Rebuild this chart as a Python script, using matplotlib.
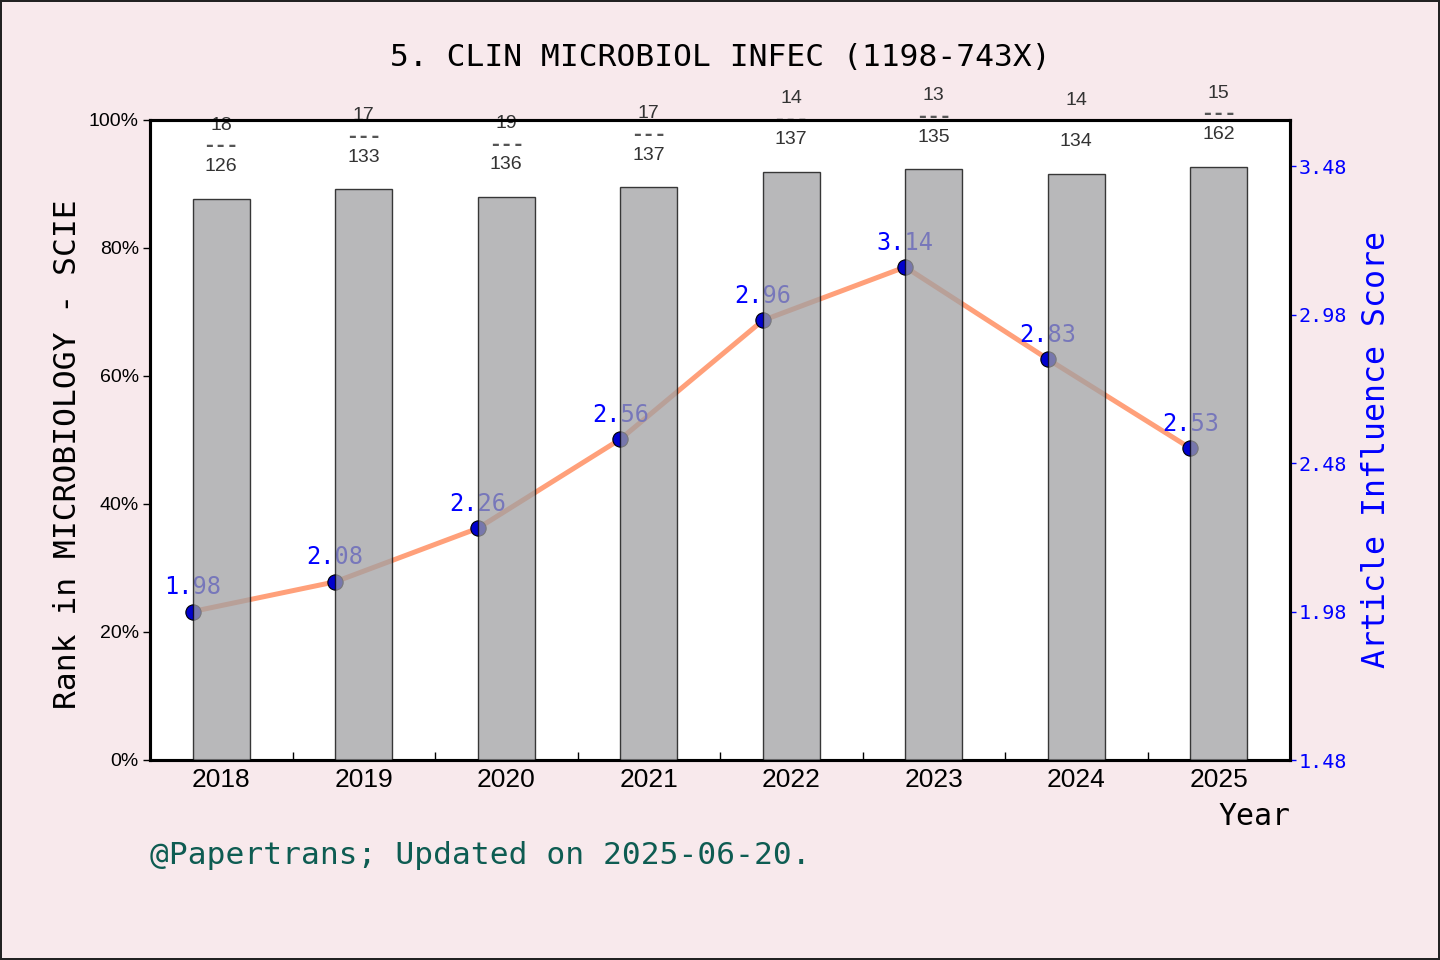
import matplotlib
matplotlib.use("Agg")
import matplotlib.pyplot as plt
from matplotlib.ticker import FixedLocator, PercentFormatter

years = ["2018", "2019", "2020", "2021", "2022", "2023", "2024", "2025"]
ranks = [18, 17, 19, 17, 14, 13, 14, 15]
totals = [126, 133, 136, 137, 137, 135, 134, 162]
bar_pct = [87.7, 89.2, 88.0, 89.5, 91.9, 92.3, 91.6, 92.7]
ais = [1.98, 2.08, 2.26, 2.56, 2.96, 3.14, 2.83, 2.53]
ais_ticks = [1.48, 1.98, 2.48, 2.98, 3.48]

MONO = "DejaVu Sans Mono"
SANS = "Liberation Sans"

fig = plt.figure(figsize=(14.4, 9.6), dpi=100)
fig.patch.set_facecolor("#f8e9ec")
fig.patch.set_edgecolor("#222222")
fig.patch.set_linewidth(1.5)

rect = [150 / 1440, 1 - 760 / 960, 1140 / 1440, 640 / 960]
ax = fig.add_axes(rect)
ax2 = ax.twinx()
ax2.set_zorder(ax.get_zorder() - 1)
ax.patch.set_visible(False)
ax2.patch.set_visible(True)
ax2.patch.set_facecolor("white")

x = list(range(len(years)))

# line (drawn beneath bars)
ax2.plot(x, ais, color="#ffa07a", lw=3.6, zorder=2,
         marker="o", markersize=11, markerfacecolor="#0000cd",
         markeredgecolor="black", markeredgewidth=0.8)
for xi, v in zip(x, ais):
    ax2.annotate(f"{v:.2f}", (xi, v), xytext=(0, 9), textcoords="offset points",
                 ha="center", va="bottom", color="blue", fontsize=17, family=MONO)
ax2.set_ylim(1.48, 3.635)
ax2.yaxis.set_major_locator(FixedLocator(ais_ticks))
ax2.set_yticklabels([f"{t:.2f}" for t in ais_ticks])
ax2.tick_params(axis="y", colors="blue", labelsize=14.5, direction="out", length=4,
                width=1, pad=2)
for lab in ax2.get_yticklabels():
    lab.set_family(MONO)
ax2.set_ylabel("Article Influence Score", color="blue", family=MONO, fontsize=22.7)
ax2.yaxis.set_label_coords(1.0626, (760 - 450) / 640)

# bars
ax.bar(x, bar_pct, width=0.4, align="edge", color="#a0a0a3", alpha=0.75,
       edgecolor="black", linewidth=1, zorder=3)
for xi, h, r, t in zip(x, bar_pct, ranks, totals):
    xc = xi + 0.2
    ax.annotate(f"{t}", (xc, h), xytext=(0, 23), textcoords="offset points",
                ha="center", va="center", fontsize=14, family=SANS, color="#333333",
                annotation_clip=False, zorder=1)
    ax.annotate("---", (xc, h), xytext=(0, 38), textcoords="offset points",
                ha="center", va="center", fontsize=14, family=MONO, color="#555555",
                fontweight="bold", annotation_clip=False, zorder=1)
    ax.annotate(f"{r}", (xc, h), xytext=(0, 53), textcoords="offset points",
                ha="center", va="center", fontsize=14, family=SANS, color="#333333",
                annotation_clip=False, zorder=1)

ax.set_xlim(-0.3, 7.7)
ax.set_ylim(0, 100)
ax.set_xticks([xi + 0.2 for xi in x])
ax.set_xticklabels(years, family=SANS, fontsize=19)
ax.set_xticks([xi + 0.7 for xi in x[:-1]], minor=True)
ax.tick_params(axis="x", which="major", length=0, pad=6)
ax.tick_params(axis="x", which="minor", direction="in", length=6, width=1)
ax.yaxis.set_major_locator(FixedLocator([0, 20, 40, 60, 80, 100]))
ax.yaxis.set_major_formatter(PercentFormatter(decimals=0))
ax.tick_params(axis="y", direction="out", length=5, width=1, labelsize=14, pad=3)
for lab in ax.get_yticklabels():
    lab.set_family(SANS)
ax.set_ylabel("Rank in MICROBIOLOGY - SCIE", family=MONO, fontsize=22.5)
ax.yaxis.set_label_coords(-0.0597, (760 - 454) / 640)
ax.set_xlabel("Year", family=MONO, fontsize=21.5)
ax.xaxis.set_label_coords(1.0, -0.065)
ax.xaxis.label.set_horizontalalignment("right")

for a in (ax, ax2):
    for s in a.spines.values():
        s.set_linewidth(2.2)
        s.set_color("black")

fig.text(0.5 * (150 + 1290) / 1440, 1 - 57 / 960, "5. CLIN MICROBIOL INFEC (1198-743X)",
         ha="center", va="center", family=MONO, fontsize=22.5)
fig.text(150 / 1440, 1 - 855 / 960, "@Papertrans; Updated on 2025-06-20.",
         ha="left", va="center", family=MONO, fontsize=22.5, color="#0e5c52")

fig.savefig("out.png", dpi=100, facecolor=fig.get_facecolor(), edgecolor=fig.get_edgecolor())
